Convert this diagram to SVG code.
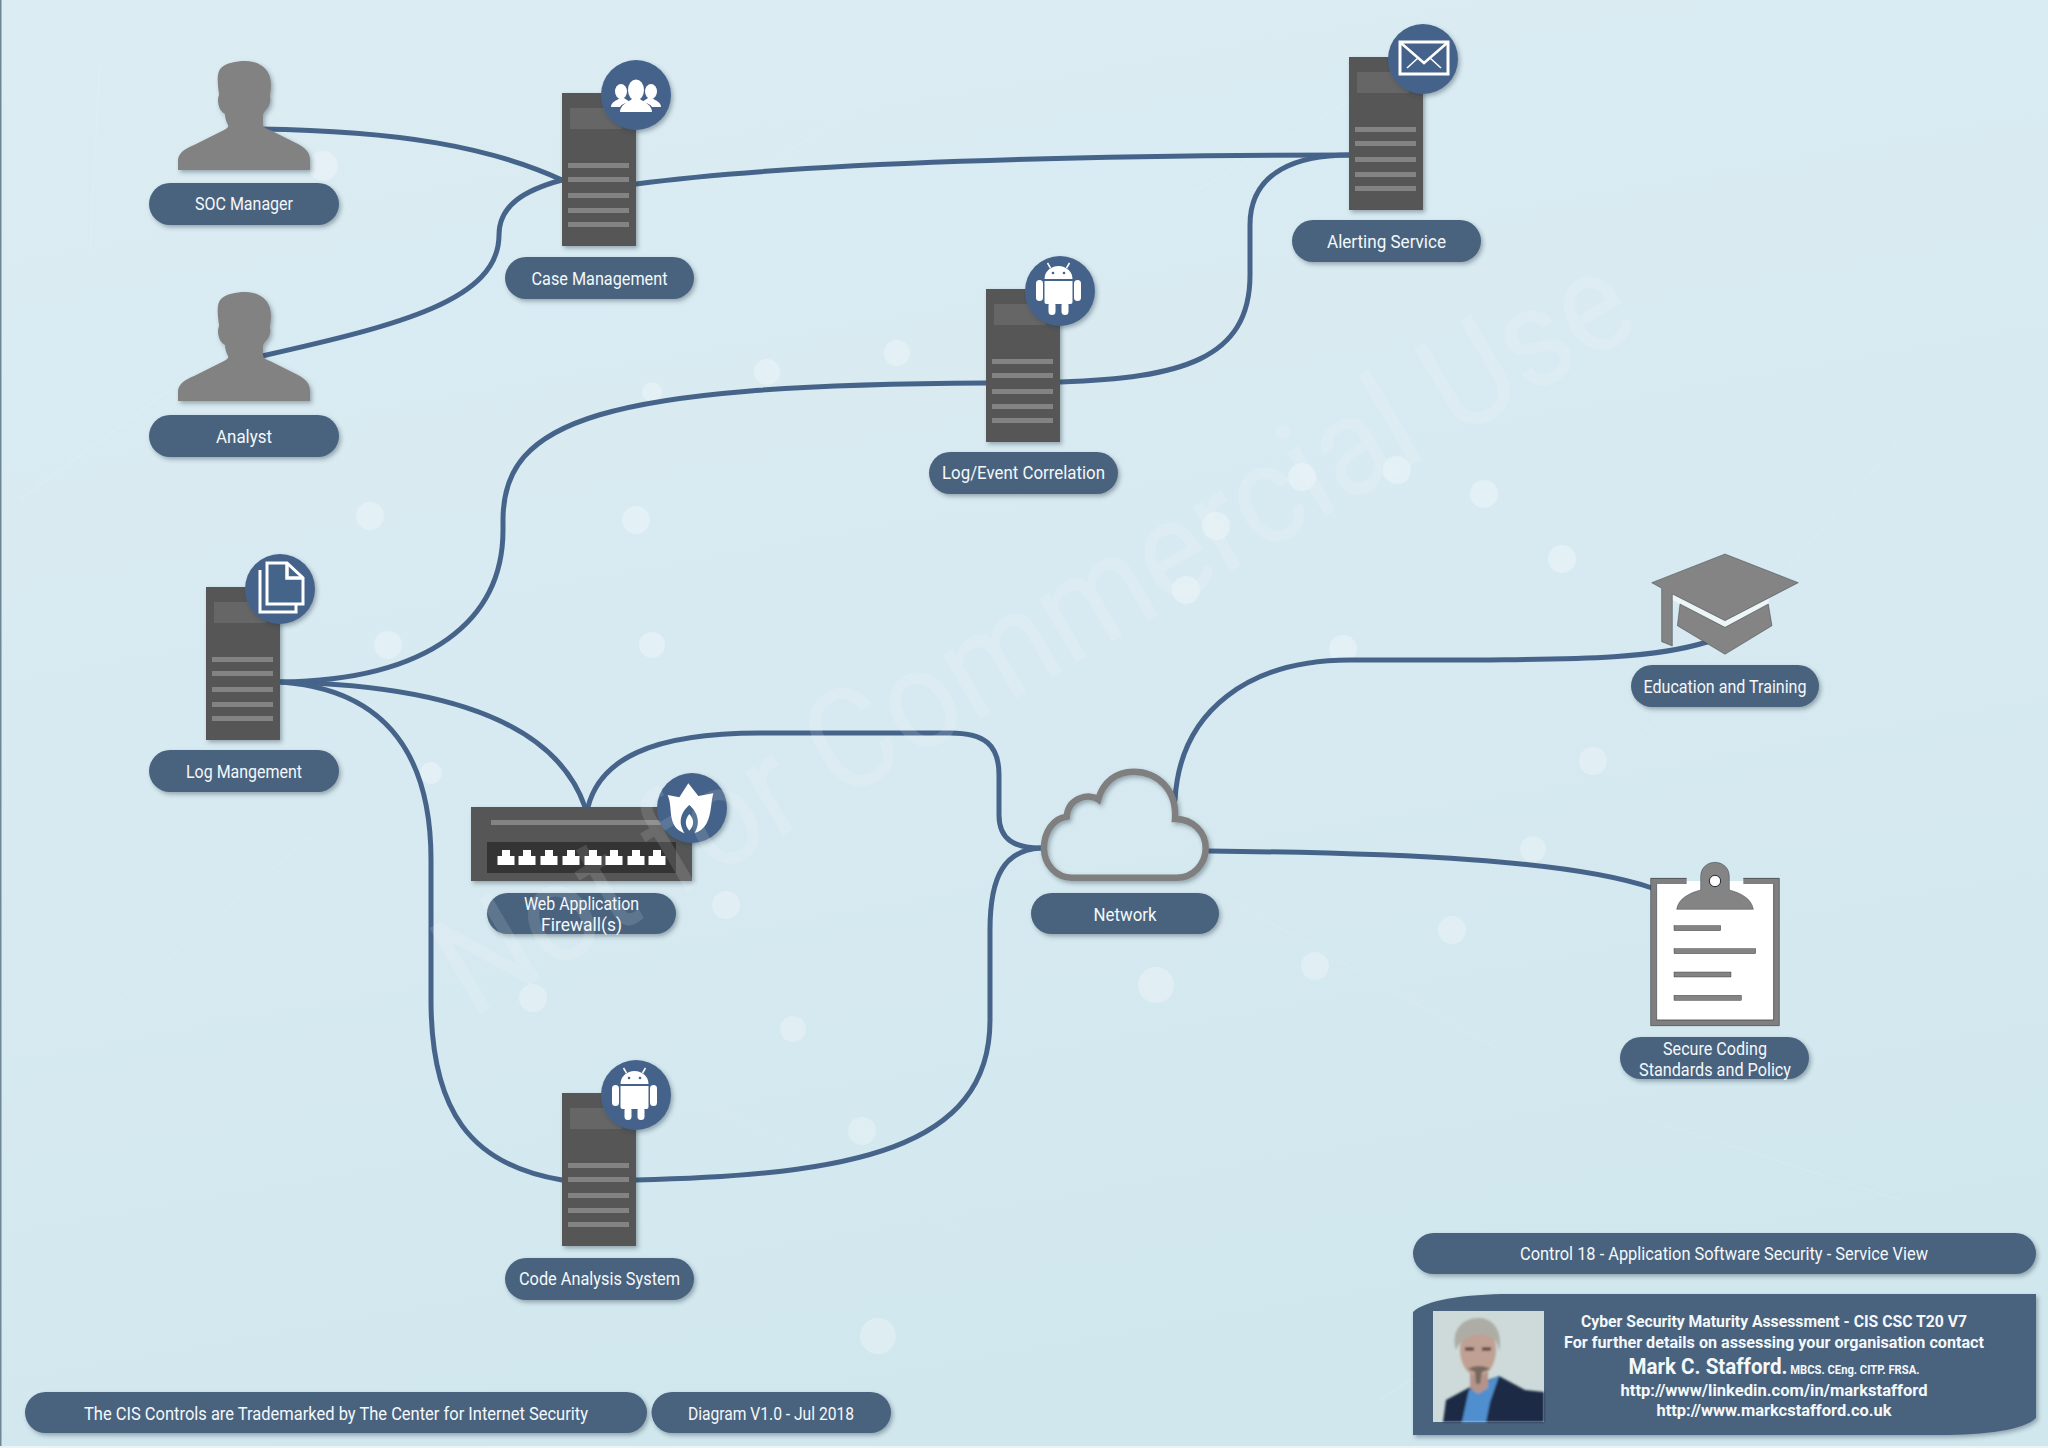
<svg xmlns="http://www.w3.org/2000/svg" width="2048" height="1448" viewBox="0 0 2048 1448">
<style>
.pill{fill:#48637f;filter:url(#sh)}
.lbl{fill:#f4f8fa;font-family:"Roboto","Liberation Sans",sans-serif;font-size:18px;text-anchor:middle}
.b{font-weight:700;font-size:17px}
.wire{fill:none;stroke:#46648a;stroke-width:5;stroke-linecap:round}
.srv{fill:#565656}
.pn{fill:#666666}
.bar{fill:#838383}
.bdg{fill:#44648a;filter:url(#sh)}
.ico{fill:#fff}
.icos{fill:none;stroke:#fff}
.gry{fill:#848484;stroke:#222c33;stroke-width:1.2}
.bok{fill:#fff;opacity:.28}
.scr{stroke:#fff;stroke-width:1;opacity:.14;fill:none}
</style>
<defs>
<linearGradient id="bg" x1="0" y1="0" x2="0.25" y2="1">
<stop offset="0" stop-color="#dbecf3"/><stop offset=".55" stop-color="#d8eaf1"/><stop offset="1" stop-color="#d1e7ee"/>
</linearGradient>
<filter id="sh" x="-20%" y="-20%" width="145%" height="145%"><feDropShadow dx="2" dy="2.5" stdDeviation="2" flood-color="#2a3a44" flood-opacity=".38"/></filter>
<filter id="soft"><feGaussianBlur stdDeviation=".8"/></filter>
<g id="server">
<rect class="srv" width="74" height="153" filter="url(#sh)"/>
<rect class="pn" x="8" y="15" width="52" height="21"/>
<rect class="bar" x="6" y="70" width="61" height="5"/>
<rect class="bar" x="6" y="84" width="61" height="5"/>
<rect class="bar" x="6" y="100" width="61" height="5"/>
<rect class="bar" x="6" y="115" width="61" height="5"/>
<rect class="bar" x="6" y="129" width="61" height="5"/>
<circle class="bdg" cx="74" cy="2" r="35"/>
</g>
<g id="android">
<path class="ico" d="M-14,-12 A14,13 0 0 1 14,-12 Z"/>
<path class="ico" d="M-14,-10 H14 V11 A2,2 0 0 1 12,13 H-12 A2,2 0 0 1 -14,11 Z"/>
<rect class="ico" x="-22.5" y="-11" width="7" height="21" rx="3.5"/>
<rect class="ico" x="15.5" y="-11" width="7" height="21" rx="3.5"/>
<rect class="ico" x="-10" y="11" width="7" height="13" rx="3.5"/>
<rect class="ico" x="3" y="11" width="7" height="13" rx="3.5"/>
<path class="icos" stroke-width="1.5" d="M-8,-23 L-11,-28 M8,-23 L11,-28"/>
<circle cx="-5.5" cy="-18" r="1.3" fill="#44648a"/><circle cx="5.5" cy="-18" r="1.3" fill="#44648a"/>
</g>
<path id="person" d="M178,170 V160 C178,153 186,148 194,145 L224,130 C227,128 229,127 228,125 C226,121 225,118 225,114 C221,112 218,107 218,100 C218,97 219,96 219,94 C217,80 217,72 221,68 C226,63 236,61 245,61 C258,61 271,68 271,84 C271,90 270,95 270,97 C271,100 270,106 266,110 C264,112 263,114 263,116 V124 C263,126 264,128 270,130 L298,144 C305,148 310,152 310,160 V170 Z" fill="#828282" filter="url(#sh)"/>
<path id="port" class="ico" d="M-8.5,15 V6 H-4 V0 H4 V6 H8.5 V15 Z"/>
</defs>

<g id="background">
<rect width="2048" height="1448" fill="url(#bg)"/>
<rect width="1.5" height="1448" fill="#6d8797"/>
<rect y="1446" width="2048" height="2" fill="#eaf3f6"/>
<circle class="bok" cx="370" cy="516" r="14"/><circle class="bok" cx="636" cy="520" r="14"/><circle class="bok" cx="388" cy="645" r="14"/><circle class="bok" cx="652" cy="645" r="13"/>
<circle class="bok" cx="897" cy="353" r="13"/><circle class="bok" cx="767" cy="372" r="13"/><circle class="bok" cx="652" cy="392" r="10"/><circle class="bok" cx="323" cy="166" r="15"/>
<circle class="bok" cx="1397" cy="470" r="14"/><circle class="bok" cx="1302" cy="477" r="14"/><circle class="bok" cx="1216" cy="526" r="14"/><circle class="bok" cx="1186" cy="590" r="14"/>
<circle class="bok" cx="1484" cy="494" r="14"/><circle class="bok" cx="1562" cy="559" r="14"/><circle class="bok" cx="1343" cy="649" r="14"/><circle class="bok" cx="1593" cy="761" r="14"/>
<circle class="bok" cx="1533" cy="849" r="13"/><circle class="bok" cx="1452" cy="930" r="14"/><circle class="bok" cx="1315" cy="966" r="14"/><circle class="bok" cx="1156" cy="985" r="18"/>
<circle class="bok" cx="726" cy="905" r="14"/><circle class="bok" cx="533" cy="998" r="14"/><circle class="bok" cx="793" cy="1029" r="13"/><circle class="bok" cx="862" cy="1131" r="14"/>
<circle class="bok" cx="878" cy="1336" r="18"/><circle class="bok" cx="431" cy="773" r="11"/>
<path class="scr" d="M20,500 L210,360 M100,60 L90,250 M760,170 L930,60 M1180,200 L1420,60 M1620,760 L1900,440 M1230,900 L1500,1050 M700,1100 L960,1230 M1650,1120 L1900,1200 M120,1000 L330,820 M1500,1320 L1380,1400"/>
</g>

<g id="connectors">
<path class="wire" d="M260,129 C400,131 490,147 562,180"/>
<path class="wire" d="M262,356 C400,325 499,300 499,235 C499,205 525,190 562,180"/>
<path class="wire" d="M636,184 C800,162 1100,155 1349,155"/>
<path class="wire" d="M1060,382 C1180,378 1250,360 1250,275 L1250,225 C1250,170 1300,155 1349,155"/>
<path class="wire" d="M281,682 C430,680 503,620 503,530 L503,520 C503,420 600,385 986,383"/>
<path class="wire" d="M281,682 C440,685 555,720 585,807"/>
<path class="wire" d="M588,807 C600,760 650,733 760,733 L950,733 C985,733 999,745 999,775 L999,815 C999,840 1015,848 1041,848"/>
<path class="wire" d="M281,682 C390,690 431,760 431,860 L431,1000 C431,1110 470,1165 562,1180"/>
<path class="wire" d="M636,1180 C850,1175 990,1150 990,1020 L990,930 C990,875 1005,850 1041,848"/>
<path class="wire" d="M1175,800 C1180,710 1250,660 1350,660 L1480,660 C1560,659 1650,660 1707,642"/>
<path class="wire" d="M1209,851 C1400,853 1570,860 1652,888"/>
</g>

<g id="soc-manager"><use href="#person"/><rect class="pill" x="149" y="183" width="190" height="42" rx="21"/><text class="lbl" x="244" y="210" textLength="98" lengthAdjust="spacingAndGlyphs">SOC Manager</text></g>
<g id="analyst"><use href="#person" y="231"/><rect class="pill" x="149" y="415" width="190" height="42" rx="21"/><text class="lbl" x="244" y="443" textLength="56" lengthAdjust="spacingAndGlyphs">Analyst</text></g>

<g id="case-management"><use href="#server" x="562" y="93"/>
<g transform="translate(636 95)"><ellipse class="ico" cx="-15" cy="-3.5" rx="6" ry="7.5"/><ellipse class="ico" cx="15" cy="-3.5" rx="6" ry="7.5"/><path class="ico" d="M-25,12 C-25,7 -20,6 -16,3 H-12 L-6,7 C-12,8 -15,10 -16,12 Z M25,12 C25,7 20,6 16,3 H12 L6,7 C12,8 15,10 16,12 Z"/><ellipse class="ico" cx="0" cy="-5" rx="8" ry="10.5"/><path class="ico" d="M-16,17 C-16,10 -8,7 -4,4 H4 C8,7 16,10 16,17 Z"/></g>
<rect class="pill" x="505" y="257" width="189" height="42" rx="21"/><text class="lbl" x="599.5" y="285" textLength="136" lengthAdjust="spacingAndGlyphs">Case Management</text></g>

<g id="alerting-service"><use href="#server" x="1349" y="57"/>
<g transform="translate(1424 58)"><rect x="-24" y="-16" width="48" height="32" fill="none" stroke="#fff" stroke-width="3"/><path class="icos" stroke-width="2.5" d="M-23,-15 L0,5 L23,-15"/><path class="icos" stroke-width="1.5" d="M-17,10 L-6,0 M17,10 L6,0"/></g>
<rect class="pill" x="1292" y="220" width="189" height="42" rx="21"/><text class="lbl" x="1386.5" y="248" textLength="119" lengthAdjust="spacingAndGlyphs">Alerting Service</text></g>

<g id="log-event-correlation"><use href="#server" x="986" y="289"/><use href="#android" x="1058.5" y="291"/>
<rect class="pill" x="929" y="452" width="189" height="42" rx="21"/><text class="lbl" x="1023.5" y="479" textLength="163" lengthAdjust="spacingAndGlyphs">Log/Event Correlation</text></g>

<g id="log-management"><use href="#server" x="206" y="587"/>
<g transform="translate(280 589)"><path d="M-20,-19 V23 H16 V15" fill="none" stroke="#fff" stroke-width="3"/><path fill="#44648a" stroke="#fff" stroke-width="3" d="M-13,-26 H7 L23,-11 V15 H-13 Z"/><path fill="none" stroke="#fff" stroke-width="3.5" d="M7,-26 V-11 H23"/></g>
<rect class="pill" x="149" y="750" width="190" height="42" rx="21"/><text class="lbl" x="244" y="778" textLength="116" lengthAdjust="spacingAndGlyphs">Log Mangement</text></g>

<g id="web-application-firewall">
<rect class="srv" x="471" y="807" width="221" height="74" filter="url(#sh)"/>
<rect class="bar" x="491" y="820" width="170" height="5"/>
<rect x="487" y="842" width="189" height="31" fill="#343434"/>
<use href="#port" x="506" y="850"/><use href="#port" x="527" y="850"/><use href="#port" x="549" y="850"/><use href="#port" x="571" y="850"/><use href="#port" x="593" y="850"/><use href="#port" x="614" y="850"/><use href="#port" x="636" y="850"/><use href="#port" x="657" y="850"/>
<circle class="bdg" cx="692" cy="808" r="35"/>
<g transform="translate(440 740) scale(.33333)">
<path class="ico" d="M745,130 L775,168 L820,160 C812,190 815,220 800,250 C790,268 775,278 760,280 H735 C715,275 700,260 695,235 C690,210 693,190 683,165 L718,172 Z"/>
<path fill="#44648a" d="M748,195 C770,215 785,245 762,282 H735 C710,245 725,215 748,195 Z"/>
<path class="ico" d="M748,222 C762,238 764,255 748,272 C733,255 735,238 748,222 Z"/>
</g>
<rect class="pill" x="487" y="893" width="189" height="41" rx="20.5"/>
<text class="lbl" x="581.5" y="910" textLength="115" lengthAdjust="spacingAndGlyphs">Web Application</text><text class="lbl" x="581.5" y="931" textLength="81" lengthAdjust="spacingAndGlyphs">Firewall(s)</text></g>

<g id="network">
<path d="M1071.7,877.7 H1176.7 C1193,877.7 1205.7,864 1205.7,848.3 C1205.7,832 1193,819 1175,819 C1177,790 1158,771.7 1133.3,771.7 C1116.7,771.7 1103.3,781.7 1098.3,799.3 C1090,793.3 1068.3,796.7 1066.7,816.7 C1053.3,818.3 1044,831.7 1044,848.3 C1044,865 1056.7,877.7 1071.7,877.7 Z" fill="none" stroke="#7f7f7f" stroke-width="6.5" filter="url(#sh)"/>
<rect class="pill" x="1031" y="893" width="188" height="41" rx="20.5"/><text class="lbl" x="1125" y="921" textLength="63" lengthAdjust="spacingAndGlyphs">Network</text></g>

<g id="education-and-training">
<g transform="translate(1600 530) scale(.33333)"><path fill="#eef5f7" d="M217,192 L375,272 L508,203 L505,222 L375,292 L240,222 L217,210 Z"/><path class="gry" stroke-width="3.6" d="M375,72 L595,158 L375,272 L217,192 V348 L185,335 V175 L155,158 Z"/><path class="gry" stroke-width="3.6" d="M240,222 L375,292 L505,222 L516,287 L375,373 L232,287 Z"/></g>
<rect class="pill" x="1631" y="665" width="188" height="42" rx="21"/><text class="lbl" x="1725" y="693" textLength="163" lengthAdjust="spacingAndGlyphs">Education and Training</text></g>

<g id="secure-coding">
<g transform="translate(1610 850) scale(.33333)">
<rect x="131" y="93" width="368" height="425" fill="#fff"/>
<path d="M230,93 H131 V518 H499 V93 H400" fill="none" stroke="#7f7f7f" stroke-width="18"/>
<path d="M230,85 H122 V527 H508 V85 H400 M140,101 V510 H491 V101" fill="none" stroke="#222c33" stroke-width="1.5"/>
<path class="gry" stroke-width="3.6" d="M200,178 C205,145 240,128 272,120 V80 C272,50 295,37 315,37 C335,37 358,50 358,80 V120 C390,128 425,145 430,178 Z"/>
<circle cx="315" cy="93" r="17" fill="#fff" stroke="#222c33" stroke-width="3"/>
<rect class="gry" stroke-width="3" x="192" y="227" width="140" height="15"/><rect class="gry" stroke-width="3" x="192" y="296" width="245" height="15"/><rect class="gry" stroke-width="3" x="192" y="366" width="171" height="15"/><rect class="gry" stroke-width="3" x="192" y="436" width="202" height="15"/>
</g>
<rect class="pill" x="1620" y="1037" width="189" height="42" rx="21"/>
<text class="lbl" x="1715" y="1055" textLength="104" lengthAdjust="spacingAndGlyphs">Secure Coding</text><text class="lbl" x="1715" y="1076" textLength="152" lengthAdjust="spacingAndGlyphs">Standards and Policy</text></g>

<g id="code-analysis-system"><use href="#server" x="562" y="1093"/><use href="#android" x="634.5" y="1096"/>
<rect class="pill" x="505" y="1258" width="189" height="42" rx="21"/><text class="lbl" x="599.5" y="1285" textLength="161" lengthAdjust="spacingAndGlyphs">Code Analysis System</text></g>

<g id="footer-cis"><rect class="pill" x="25" y="1392" width="622" height="41" rx="20.5"/><text class="lbl" x="336" y="1420" textLength="504" lengthAdjust="spacingAndGlyphs">The CIS Controls are Trademarked by The Center for Internet Security</text></g>
<g id="footer-version"><rect class="pill" x="651.5" y="1392" width="239.5" height="41" rx="20.5"/><text class="lbl" x="771" y="1420" textLength="166" lengthAdjust="spacingAndGlyphs">Diagram V1.0 - Jul 2018</text></g>
<g id="title"><rect class="pill" x="1413" y="1233" width="623" height="41" rx="20.5"/><text class="lbl" x="1724" y="1260" textLength="408" lengthAdjust="spacingAndGlyphs">Control 18 - Application Software Security - Service View</text></g>

<g id="credit">
<path class="pill" d="M1413,1312 C1425,1300 1465,1294 1510,1294 H2036 V1418 C2024,1430 1985,1435 1940,1435 H1413 Z"/>
<g id="portrait">
<rect x="1433" y="1311" width="111" height="111" fill="#cddad9"/>
<g filter="url(#soft)">
<path d="M1443,1422 L1446,1400 L1472,1386 L1499,1376 L1525,1390 L1544,1392 V1422 Z" fill="#1e2c44"/>
<path d="M1462,1422 L1469,1390 L1499,1376 L1490,1402 L1486,1422 Z" fill="#4f8fd0"/>
<path d="M1470,1372 H1488 V1388 L1478,1394 L1470,1388 Z" fill="#b4948a"/>
<ellipse cx="1478" cy="1350" rx="18" ry="26" fill="#c0a093"/>
<path d="M1456,1350 C1450,1328 1465,1317 1480,1318 C1495,1319 1503,1333 1499,1352 C1498,1342 1494,1336 1486,1336 C1476,1332 1462,1336 1456,1350 Z" fill="#adada6"/>
<path d="M1465,1349 H1474 M1482,1349 H1491" stroke="#4b3c38" stroke-width="3"/>
<path d="M1468,1369 C1474,1365 1484,1365 1490,1369 L1482,1372 L1480,1384 H1476 L1475,1372 Z" fill="#77675e"/>
</g>
</g>
<text class="lbl b" x="1774" y="1327" textLength="386" lengthAdjust="spacingAndGlyphs">Cyber Security Maturity Assessment - CIS CSC T20 V7</text>
<text class="lbl b" x="1774" y="1348" textLength="420" lengthAdjust="spacingAndGlyphs">For further details on assessing your organisation contact</text>
<text class="lbl b" x="1774" y="1374" textLength="291" lengthAdjust="spacingAndGlyphs"><tspan font-size="22">Mark C. Stafford.</tspan><tspan font-size="12"> MBCS. CEng. CITP. FRSA.</tspan></text>
<text class="lbl b" x="1774" y="1396" textLength="307" lengthAdjust="spacingAndGlyphs">http://www/linkedin.com/in/markstafford</text>
<text class="lbl b" x="1774" y="1416" textLength="235" lengthAdjust="spacingAndGlyphs">http://www.markcstafford.co.uk</text>
</g>

<g id="watermark"><text x="1035" y="680" transform="rotate(-30.5 1035 637)" font-family="Roboto,'Liberation Sans',sans-serif" font-size="140" font-weight="400" fill="#fff" opacity=".12" text-anchor="middle" textLength="1360" lengthAdjust="spacingAndGlyphs">Not for Commercial Use</text></g>
</svg>
